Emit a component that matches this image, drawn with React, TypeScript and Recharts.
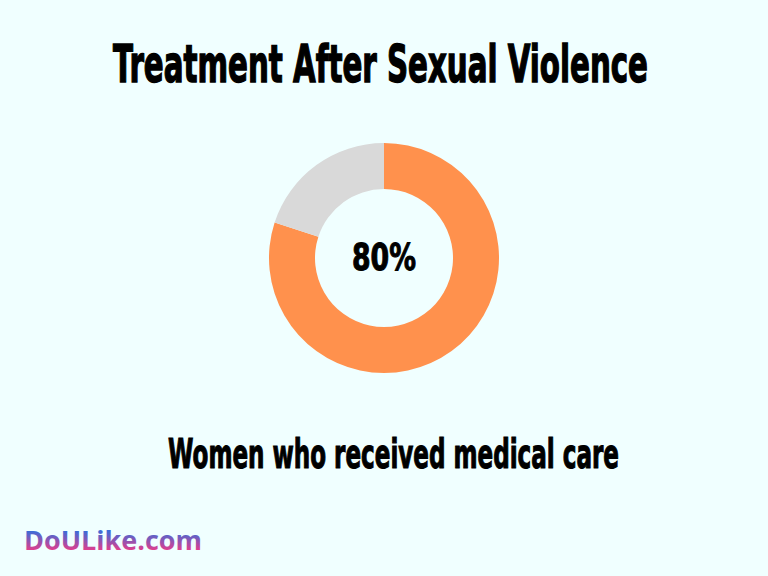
import { PieChart, Pie, Cell } from 'recharts'

const segmentNames = ['Received care', 'Did not receive care']
const segmentValues = [80, 20]
const segmentColors = ['#FF914D', '#D9D9D9']
const centerLabel = '80%'
const titleText = 'Treatment After Sexual Violence'
const captionText = 'Women who received medical care'
const brandText = 'DoULike.com'

const data = segmentNames.map((name, i) => ({ name, value: segmentValues[i] }))

const heavy = '"Liberation Sans Narrow", "DejaVu Sans Condensed", "Liberation Sans", sans-serif'

export default function App() {
  return (
    <div
      style={{
        position: 'absolute',
        top: 0,
        left: 0,
        width: 768,
        height: 576,
        background: '#F0FFFF',
        overflow: 'hidden',
      }}
    >
      <div style={{ position: 'absolute', left: 0, top: 0 }}>
        <PieChart width={768} height={576} margin={{ top: 0, right: 0, bottom: 0, left: 0 }}>
          <Pie
            data={data}
            dataKey="value"
            nameKey="name"
            cx={384}
            cy={258}
            innerRadius={69}
            outerRadius={115}
            startAngle={90}
            endAngle={-270}
            stroke="none"
            isAnimationActive={false}
          >
            {data.map((d, i) => (
              <Cell key={d.name} fill={segmentColors[i]} />
            ))}
          </Pie>
        </PieChart>
      </div>

      {/* text overlay */}
      <svg width={768} height={576} style={{ position: 'absolute', left: 0, top: 0 }}>
        <defs>
          <linearGradient id="brand" gradientUnits="userSpaceOnUse" x1="0" y1="531" x2="0" y2="551">
            <stop offset="0%" stopColor="#3A6CD8" />
            <stop offset="100%" stopColor="#E83C8A" />
          </linearGradient>
        </defs>
        <text
          x={113}
          y={82}
          textLength={535}
          lengthAdjust="spacingAndGlyphs"
          fontFamily={heavy}
          fontWeight={700}
          fontSize={51}
          fill="#000"
          stroke="#000"
          strokeWidth={1.4}
        >
          {titleText}
        </text>
        <text
          x={352}
          y={270}
          textLength={64}
          lengthAdjust="spacingAndGlyphs"
          fontFamily={heavy}
          fontWeight={700}
          fontSize={37}
          fill="#000"
          stroke="#000"
          strokeWidth={1}
        >
          {centerLabel}
        </text>
        <text
          x={168}
          y={468}
          textLength={451}
          lengthAdjust="spacingAndGlyphs"
          fontFamily={heavy}
          fontWeight={700}
          fontSize={41}
          fill="#000"
          stroke="#000"
          strokeWidth={1.1}
        >
          {captionText}
        </text>
        <text
          x={24}
          y={550}
          textLength={178}
          lengthAdjust="spacingAndGlyphs"
          fontFamily='"Open Sans", sans-serif'
          fontWeight={700}
          fontSize={27}
          fill="url(#brand)"
        >
          {brandText}
        </text>
      </svg>
    </div>
  )
}
